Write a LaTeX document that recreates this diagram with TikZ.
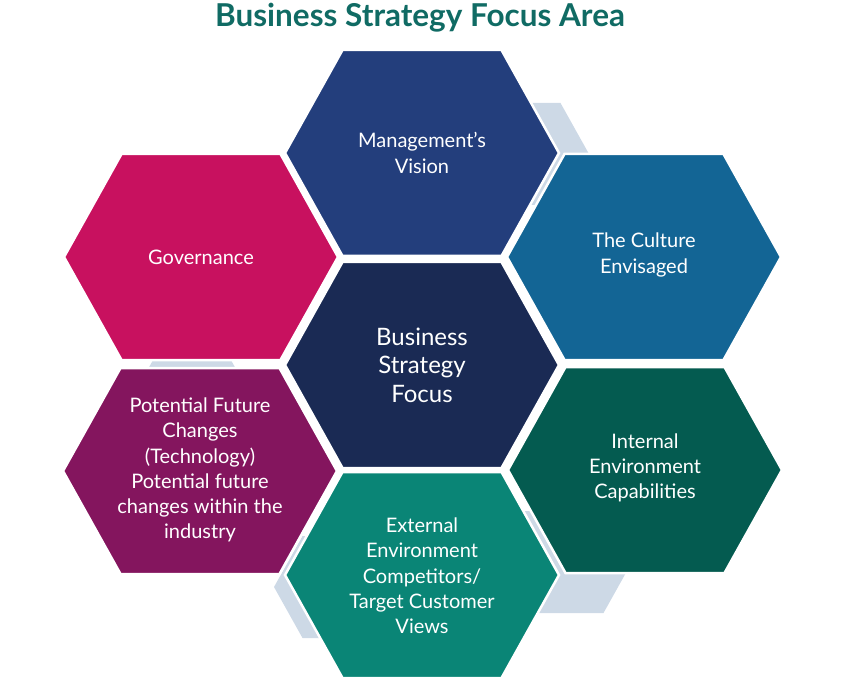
\documentclass[tikz,border=0pt]{standalone}
\usepackage{fontspec}
\setmainfont{Lato}
\usetikzlibrary{positioning}
\definecolor{titlegreen}{HTML}{106B64}
\definecolor{shadegray}{HTML}{CDD9E6}
\definecolor{visionblue}{HTML}{233E7C}
\definecolor{govmagenta}{HTML}{C8115F}
\definecolor{cultureblue}{HTML}{136595}
\definecolor{focusnavy}{HTML}{1A2A54}
\definecolor{futureplum}{HTML}{84155E}
\definecolor{internalteal}{HTML}{045B50}
\definecolor{externalteal}{HTML}{0A8576}
\tikzset{
      hexa/.style = {draw=white, line width=2.5pt, line join=miter},   % <--- white rim makes the gaps
  hexshade/.style = {fill=shadegray},
   hextext/.style = {text=white, align=center,
                     font=\fontsize{20}{25.3}\selectfont},
  hexcentre/.style = {hextext, font=\fontsize{24}{28.5}\selectfont},
}
\begin{document}
\begin{tikzpicture}[x=1pt,y=-1pt]
\useasboundingbox (0,0) rectangle (845,684);
% light half size cells peeking out from behind
\foreach \x/\y in {521/154, 192/412, 342/587, 564/562}
  \fill[hexshade] (\x,\y) +(-68,0) -- +(-39.5,-51) -- +(39.5,-51)
        -- +(68,0) -- +(39.5,51) -- +(-39.5,51) -- cycle;
% the seven cells
\foreach \x/\y/\c in {422/153/visionblue, 201/257/govmagenta, 644/257/cultureblue,
                      422/365/focusnavy, 200/471/futureplum, 645/470/internalteal,
                      422/575/externalteal}
  \filldraw[hexa, fill=\c] (\x,\y) +(-137,0) -- +(-79.5,-103) -- +(79.5,-103)
        -- +(137,0) -- +(79.5,103) -- +(-79.5,103) -- cycle;
\node[font=\bfseries\fontsize{31.5}{33}\selectfont, text=titlegreen, anchor=base]
      (title) at (420,26.5) {Business Strategy Focus Area};
\node[hextext]   (vision)   at (422,153) {Management's\\Vision};
\node[hextext]   (gov)      at (201,257) {Governance};
\node[hextext]   (culture)  at (644,255) {The Culture\\Envisaged};
\node[hexcentre] (focus)    at (422,365) {Business\\Strategy\\Focus};
\node[hextext]   (future)   at (200,470) {Potential Future\\Changes\\(Technology)\\Potential future\\changes within the\\industry};
\node[hextext]   (internal) at (645,468) {Internal\\Environment\\Capabilities};
\node[hextext]   (external) at (422,576) {External\\Environment\\Competitors/\\Target Customer\\Views};
\end{tikzpicture}
\end{document}
